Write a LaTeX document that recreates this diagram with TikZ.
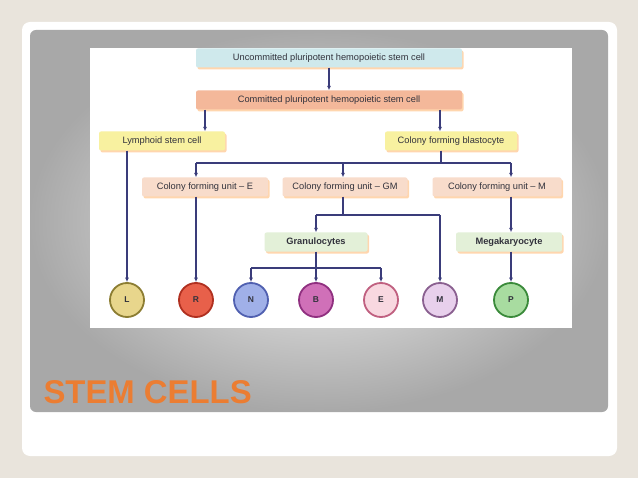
\documentclass[tikz,border=0pt]{standalone}
\usepackage{fontspec}
\setmainfont{Liberation Sans}
\usetikzlibrary{shadows,arrows.meta}
\definecolor{ln}{HTML}{3A3C7A}
\begin{document}
\begin{tikzpicture}[x=1bp,y=-1bp,
  box/.style={rounded corners=2bp,minimum height=19bp,font=\fontsize{9.3}{11}\selectfont,inner sep=1bp,text={rgb,255:red,50;green,50;blue,60},
     drop shadow={shadow xshift=1.5bp,shadow yshift=-2bp,fill=orange!45,opacity=0.7}},
  cell/.style={circle,minimum size=34bp,line width=1.8bp,font=\bfseries\fontsize{8.5}{10}\selectfont,inner sep=0,text={rgb,255:red,50;green,50;blue,60}},
  ar/.style={draw=ln,line width=1.1bp,-{Latex[length=4.5bp,width=4bp]}},
  li/.style={draw=ln,line width=1.1bp}]
\useasboundingbox (0,0) rectangle (638,478);
\fill[color={rgb,255:red,233;green,228;blue,220}] (0,0) rectangle (638,478);
\fill[white,rounded corners=8bp] (22,22) rectangle (617,456);
\shade[rounded corners=6bp,inner color=white!92!gray,outer color=gray!68] (30,30) rectangle (608,412);
\fill[white] (90,48) rectangle (572,328);
\node[anchor=west,font=\bfseries\fontsize{33}{36}\selectfont,text={rgb,255:red,235;green,125;blue,50}] (title) at (40,392) {STEM CELLS};
% boxes
\node[box,fill={rgb,255:red,207;green,233;blue,236},minimum width=266bp] (unc) at (329,58) {Uncommitted pluripotent hemopoietic stem cell};
\node[box,fill={rgb,255:red,244;green,184;blue,154},minimum width=266bp] (com) at (329,100) {Committed pluripotent hemopoietic stem cell};
\node[box,fill={rgb,255:red,248;green,241;blue,160},minimum width=126bp] (lym) at (162,141) {Lymphoid stem cell};
\node[box,fill={rgb,255:red,248;green,241;blue,160},minimum width=132bp] (cfb) at (451,141) {Colony forming blastocyte};
\node[box,fill={rgb,255:red,248;green,220;blue,203},minimum width=126bp] (cfe) at (205,187) {Colony forming unit -- E};
\node[box,fill={rgb,255:red,248;green,220;blue,203},minimum width=125bp] (cfgm) at (345,187) {Colony forming unit -- GM};
\node[box,fill={rgb,255:red,248;green,220;blue,203},minimum width=129bp] (cfm) at (497,187) {Colony forming unit -- M};
\node[box,fill={rgb,255:red,227;green,240;blue,216},minimum width=103bp,font=\bfseries\fontsize{9.3}{11}\selectfont] (gra) at (316,242) {Granulocytes};
\node[box,fill={rgb,255:red,227;green,240;blue,216},minimum width=106bp,font=\bfseries\fontsize{9.3}{11}\selectfont] (meg) at (509,242) {Megakaryocyte};
% cells
\node[cell,fill={rgb,255:red,232;green,214;blue,140},draw={rgb,255:red,140;green,125;blue,50}] (L) at (127,300) {L};
\node[cell,fill={rgb,255:red,232;green,96;blue,74},draw={rgb,255:red,176;green,48;blue,32}] (R) at (196,300) {R};
\node[cell,fill={rgb,255:red,160;green,176;blue,232},draw={rgb,255:red,80;green,96;blue,176}] (N) at (251,300) {N};
\node[cell,fill={rgb,255:red,208;green,112;blue,184},draw={rgb,255:red,144;green,48;blue,128}] (B) at (316,300) {B};
\node[cell,fill={rgb,255:red,248;green,216;blue,224},draw={rgb,255:red,192;green,96;blue,128}] (E) at (381,300) {E};
\node[cell,fill={rgb,255:red,232;green,208;blue,236},draw={rgb,255:red,138;green,96;blue,144}] (M) at (440,300) {M};
\node[cell,fill={rgb,255:red,168;green,220;blue,160},draw={rgb,255:red,58;green,138;blue,58}] (P) at (511,300) {P};
% connectors
\draw[ar] (unc) -- (com);
\draw[ar] (com.south -| 205,0) -- (lym.north -| 205,0);
\draw[ar] (com.south -| 440,0) -- (cfb.north -| 440,0);
\coordinate (j1) at (441,163);
\draw[li] (cfb.south -| j1) -- (j1);
\draw[li] (196,163) -- (511,163);
\draw[ar] (196,163) -- (cfe.north -| 196,0);
\draw[ar] (343,163) -- (cfgm.north -| 343,0);
\draw[ar] (511,163) -- (cfm.north -| 511,0);
\draw[ar] (lym.south -| L) -- (L);
\draw[ar] (cfe.south -| R) -- (R);
\coordinate (j2) at (343,215);
\draw[li] (cfgm.south -| j2) -- (j2);
\draw[li] (316,215) -- (440,215);
\draw[ar] (316,215) -- (gra);
\draw[ar] (440,215) -- (M);
\coordinate (j3) at (316,268);
\draw[li] (gra) -- (j3);
\draw[li] (251,268) -- (381,268);
\draw[ar] (251,268) -- (N);
\draw[ar] (j3) -- (B);
\draw[ar] (381,268) -- (E);
\draw[ar] (cfm.south -| 511,0) -- (meg.north -| 511,0);
\draw[ar] (meg.south -| P) -- (P);
\end{tikzpicture}
\end{document}
